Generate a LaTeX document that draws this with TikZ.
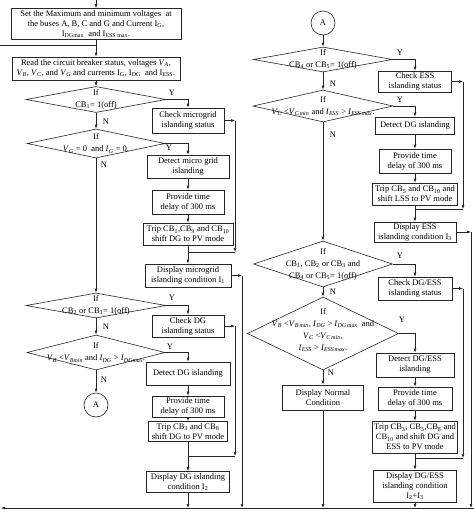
\documentclass[tikz,border=0pt]{standalone}
\usepackage{fontspec}
\setmainfont{Liberation Serif}
\usetikzlibrary{shapes.geometric,arrows.meta}
\newcommand{\vsub}[2]{\textit{#1}\textsubscript{\textit{#2}}}
\begin{document}
\begin{tikzpicture}[x=1pt,y=-1pt,
  every node/.style={font=\fontsize{8.5}{10}\selectfont},
  box/.style={draw=black!85, line width=0.6pt, rectangle, inner sep=1pt, align=center},
  dia/.style={draw=black!85, diamond, inner sep=0pt, line width=0.6pt},
  dtext/.style={align=center, inner sep=0pt, font=\fontsize{8.5}{12}\selectfont},
  lbl/.style={inner sep=0pt},
  arr/.style={-{Latex[length=4pt,width=3pt]}, line width=0.6pt, draw=black!85},
  ln/.style={line width=0.6pt, draw=black!85},
  conn/.style={circle, draw=black!85, line width=0.6pt, minimum size=24pt, inner sep=0pt}]
\useasboundingbox (0,0) rectangle (474,515);

% ---------- left column ----------
\coordinate (top) at (96,0);
\node[box, minimum width=170pt, minimum height=31pt] (b1) at (96,24)
  {Set the Maximum and minimum voltages \ at\\ the buses A, B, C and G and Current I\textsubscript{G},\\ I\textsubscript{DGmax} \ and I\textsubscript{ESS max}.};
\node[box, minimum width=168pt, minimum height=23pt] (b2) at (96,68.5)
  {Read the circuit breaker status, voltages \vsub{V}{A},\\ \vsub{V}{B}, \vsub{V}{C}, and \vsub{V}{G} and currents I\textsubscript{G}, I\textsubscript{DG} \ and I\textsubscript{ESS}.};
\draw[arr] (top) -- (b1.north);
\draw[arr] (b1.south) -- (b2.north);
\coordinate (fbtop) at (0,45);
\draw[ln] (fbtop) -- (fbtop -| b1.south);

\node[dia, minimum width=140pt, minimum height=26pt] (d1) at (96,99.5) {};
\node[dtext] (t1) at (d1) {If\\CB\textsubscript{1}= 1(off)};
\draw[arr] (b2.south) -- (d1.north);
\node[box, minimum width=72pt, minimum height=25pt] (b3) at (188,120.5) {Check microgrid\\islanding status};
\draw[arr] (d1.east) -| (b3.north);
\node[lbl] (y1) at (172,93) {Y};

\node[dia, minimum width=138pt, minimum height=29pt] (d2) at (96,143.5) {};
\node[dtext] (t2) at (d2) {If\\\vsub{V}{G} = 0 \ and \vsub{I}{G} = 0.};
\draw[arr] (d1.south) -- (d2.north);
\node[lbl] (n1) at (106,122) {N};
\node[box, minimum width=82pt, minimum height=23pt] (b4) at (188,166.5) {Detect micro grid\\islanding};
\draw[arr] (d2.east) -| (b4.north);
\node[lbl] (y2) at (169,148) {Y};
\node[box, minimum width=72pt, minimum height=24pt] (b5) at (188,202) {Provide time\\delay of 300 ms};
\draw[arr] (b4) -- (b5);
\node[box, minimum width=90pt, minimum height=22pt] (b6) at (188,234) {Trip CB\textsubscript{1},CB\textsubscript{9} and CB\textsubscript{10}\\shift DG to PV mode};
\draw[arr] (b5) -- (b6);
\node[box, minimum width=86pt, minimum height=23pt] (b7) at (188,275.5) {Display microgrid\\islanding condition I\textsubscript{1}};
\draw[arr] (b6) -- (b7);
\coordinate (l1a) at (235,120.5);
\coordinate (l1b) at (235,252);
\coordinate (j1) at (188,252);
\draw[arr] (b3.east) -- (l1a);
\draw[arr] (l1a) -- (l1b);
\draw[ln] (l1b) -- (j1);
\coordinate (o1a) at (242,275.5);
\coordinate (o1b) at (242,508);
\draw[arr] (b7.east) -- (o1a);
\draw[arr] (o1a) -- (o1b);

\node[dia, minimum width=140pt, minimum height=25pt] (d3) at (96,305.5) {};
\node[dtext] (t3) at (d3) {If\\CB\textsubscript{2} or CB\textsubscript{3}= 1(off)};
\draw[arr] (d2.south) -- (d3.north);
\node[lbl] (n2) at (104,165) {N};
\node[box, minimum width=72pt, minimum height=22pt] (b8) at (188,326) {Check DG\\islanding status};
\draw[arr] (d3.east) -| (b8.north);
\node[lbl] (y3) at (172,298) {Y};

\node[dia, minimum width=138pt, minimum height=35pt] (d4) at (96,352.5) {};
\node[dtext] (t4) at (d4) {If\\\vsub{V}{B} <\vsub{V}{Bmin} and \vsub{I}{DG} > \vsub{I}{DGmax}.};
\draw[arr] (d3.south) -- (d4.north);
\node[lbl] (n3) at (106,327) {N};
\node[box, minimum width=84pt, minimum height=23pt] (b9) at (188,373.5) {Detect DG islanding};
\draw[arr] (d4.east) -| (b9.north);
\node[lbl] (y4) at (170,347) {Y};
\node[conn] (a1) at (96,405) {A};
\draw[arr] (d4.south) -- (a1.north);
\node[lbl] (n4) at (104,380) {N};
\node[box, minimum width=72pt, minimum height=21pt] (b10) at (188,406.5) {Provide time\\delay of 300 ms};
\draw[arr] (b9) -- (b10);
\node[box, minimum width=79pt, minimum height=20pt] (b11) at (188,431.5) {Trip CB\textsubscript{3} and CB\textsubscript{8}\\shift DG to PV mode};
\draw[arr] (b10) -- (b11);
\node[box, minimum width=83pt, minimum height=21pt] (b12) at (188,482) {Display DG islanding\\condition I\textsubscript{2}};
\draw[arr] (b11) -- (b12);
\coordinate (l2a) at (235,326);
\coordinate (l2b) at (235,456);
\coordinate (j2) at (188,456);
\draw[arr] (b8.east) -- (l2a);
\draw[arr] (l2a) -- (l2b);
\draw[ln] (l2b) -- (j2);
\coordinate (e12) at (188,508);
\draw[arr] (b12.south) -- (e12);

% ---------- right column ----------
\node[conn] (a2) at (323,23) {A};
\node[dia, minimum width=139pt, minimum height=25pt] (d5) at (323,59.5) {};
\node[dtext] (t5) at (d5) {If\\CB\textsubscript{4} or CB\textsubscript{5}= 1(off)};
\draw[arr] (a2.south) -- (d5.north);
\node[box, minimum width=73pt, minimum height=21pt] (b13) at (415,81.5) {Check ESS\\islanding status};
\draw[arr] (d5.east) -| (b13.north);
\node[lbl] (y5) at (400,53) {Y};

\node[dia, minimum width=140pt, minimum height=32pt] (d6) at (323,106) {};
\node[dtext] (t6) at (d6) {If\\\vsub{V}{C} <\vsub{V}{C\,min} and \vsub{I}{ESS} > \vsub{I}{ESS\,max}.};
\draw[arr] (d5.south) -- (d6.north);
\node[lbl] (n5) at (333,84) {N};
\node[box, minimum width=79pt, minimum height=17pt] (b14) at (415,125.5) {Detect DG islanding};
\draw[arr] (d6.east) -| (b14.north);
\node[lbl] (y6) at (400,100) {Y};
\node[box, minimum width=72pt, minimum height=24pt] (b15) at (415,161) {Provide time\\delay of 300 ms};
\draw[arr] (b14) -- (b15);
\node[box, minimum width=85pt, minimum height=22pt] (b16) at (415,194) {Trip CB\textsubscript{5} and CB\textsubscript{10} and\\shift LSS to PV mode};
\draw[arr] (b15) -- (b16);
\node[box, minimum width=82pt, minimum height=20pt] (b17) at (415,232) {Display ESS\\islanding condition I\textsubscript{3}};
\draw[arr] (b16) -- (b17);
\coordinate (l3a) at (463,81.5);
\coordinate (l3b) at (463,209);
\coordinate (j3) at (415,209);
\draw[arr] (b13.east) -- (l3a);
\draw[arr] (l3a) -- (l3b);
\draw[ln] (l3b) -- (j3);
\coordinate (o2a) at (471,232);
\coordinate (o2b) at (471,508);
\draw[arr] (b17.east) -- (o2a);
\draw[arr] (o2a) -- (o2b);

\node[dia, minimum width=139pt, minimum height=46pt] (d7) at (323,264) {};
\node[dtext] (t7) at (d7) {If\\CB\textsubscript{1}, CB\textsubscript{2} or CB\textsubscript{3} and\\CB\textsubscript{4} or CB\textsubscript{5}= 1(off)};
\draw[arr] (d6.south) -- (d7.north);
\node[lbl] (n6) at (333,135) {N};
\node[box, minimum width=74pt, minimum height=23pt] (b18) at (415,288.5) {Check DG/ESS\\islanding status};
\draw[arr] (d7.east) -| (b18.north);
\node[lbl] (y7) at (400,256) {Y};

\node[dia, minimum width=151pt, minimum height=73pt] (d8) at (323,333.5) {};
\node[dtext] (t8) at (323,330) {If\\\vsub{V}{B} <\vsub{V}{B\,min}, \vsub{I}{DG} > \vsub{I}{DG\,max} \ and\\\vsub{V}{C} <\vsub{V}{C\,min},\\\vsub{I}{ESS} > \vsub{I}{ESS\,max}.};
\draw[arr] (d7.south) -- (d8.north);
\node[lbl] (n7) at (333,292) {N};
\node[box, minimum width=78pt, minimum height=24pt] (b19) at (415,365) {Detect DG/ESS\\islanding};
\draw[arr] (d8.east) -| (b19.north);
\node[lbl] (y8) at (402,320) {Y};
\node[box, minimum width=81pt, minimum height=25pt] (b23) at (323,397.5) {Display Normal\\Condition};
\draw[arr] (d8.south) -- (b23.north);
\node[lbl] (n8) at (331,373) {N};
\coordinate (e23) at (323,508);
\draw[arr] (b23.south) -- (e23);
\node[box, minimum width=74pt, minimum height=23pt] (b20) at (415,398.5) {Provide time\\delay of 300 ms};
\draw[arr] (b19) -- (b20);
\node[box, minimum width=85pt, minimum height=32pt] (b21) at (415,437) {Trip CB\textsubscript{3}, CB\textsubscript{5},CB\textsubscript{8} and\\CB\textsubscript{10} and shift DG and\\ESS to PV mode};
\draw[arr] (b20) -- (b21);
\node[box, minimum width=83pt, minimum height=32pt] (b22) at (415,486) {Display DG/ESS\\islanding condition\\I\textsubscript{2}+I\textsubscript{3}};
\draw[arr] (b21) -- (b22);
\coordinate (l4a) at (463,288.5);
\coordinate (l4b) at (463,458);
\coordinate (j4) at (415,458);
\draw[arr] (b18.east) -- (l4a);
\draw[arr] (l4a) -- (l4b);
\draw[ln] (l4b) -- (j4);
\coordinate (e22) at (415,508);
\draw[arr] (b22.south) -- (e22);

% ---------- bottom return line ----------
\coordinate (botR) at (474,508);
\coordinate (botL) at (1,508);
\draw[arr] (botR) -- (botL);
\end{tikzpicture}
\end{document}
